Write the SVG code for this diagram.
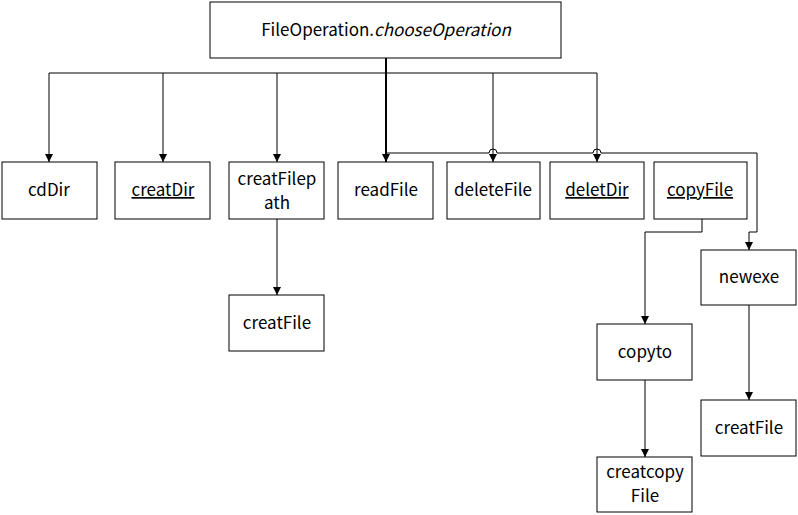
<svg xmlns="http://www.w3.org/2000/svg" width="798" height="515" viewBox="0 0 798 515">
<style>
rect{fill:#fff;stroke:#000;stroke-width:1}
text{font-family:"Noto Sans CJK KR","Noto Sans",sans-serif;font-size:17px;text-anchor:middle;fill:#000}
.c{fill:none;stroke:#000;stroke-width:1}
</style>
<defs>
<marker id="b" markerWidth="8" markerHeight="9" refX="8" refY="4" orient="auto" markerUnits="userSpaceOnUse" viewBox="0 0 8 8"><path d="M0,0L8,4L0,8z" fill="#000"/></marker></defs>
<g id="connectors">
<path class="c" style="stroke-width:2" d="M386,58V153"/>
<path class="c" d="M49,73H597"/>
<path class="c" d="M49,73V162" marker-end="url(#b)"/>
<path class="c" d="M163,73V162" marker-end="url(#b)"/>
<path class="c" d="M277,73V162" marker-end="url(#b)"/>
<path class="c" d="M493,73V162" marker-end="url(#b)"/>
<path class="c" d="M597,73V162" marker-end="url(#b)"/>
<path class="c" style="stroke-width:2" d="M386,153V162" marker-end="url(#b)"/>
<path class="c" d="M386,153H489A4,4 0 0 1 497,153H593A4,4 0 0 1 601,153H757V232H749V250" marker-end="url(#b)"/>
<path class="c" d="M277,219V295" marker-end="url(#b)"/>
<path class="c" d="M702,219V232H645V324" marker-end="url(#b)"/>
<path class="c" d="M645,380V457" marker-end="url(#b)"/>
<path class="c" d="M749,305V400" marker-end="url(#b)"/>
</g>
<g id="top"><rect x="210" y="2" width="351" height="56"/><text x="386" y="36">FileOperation.<tspan font-style="italic">chooseOperation</tspan></text></g>
<g id="cdDir"><rect x="2" y="162" width="95" height="57"/><text x="49" y="196">cdDir</text></g>
<g id="creatDir"><rect x="115" y="162" width="95" height="57"/><text x="163" y="196" text-decoration="underline">creatDir</text></g>
<g id="creatFilepath"><rect x="229" y="162" width="95" height="57"/><text x="277" y="185">creatFilep</text><text x="277" y="209">ath</text></g>
<g id="readFile"><rect x="338" y="162" width="95" height="57"/><text x="386" y="196">readFile</text></g>
<g id="deleteFile"><rect x="447" y="162" width="93" height="57"/><text x="493" y="196">deleteFile</text></g>
<g id="deletDir"><rect x="550" y="162" width="94" height="57"/><text x="597" y="196" text-decoration="underline">deletDir</text></g>
<g id="copyFile"><rect x="654" y="162" width="93" height="57"/><text x="700" y="196" text-decoration="underline">copyFile</text></g>
<g id="newexe"><rect x="701" y="250" width="95" height="55"/><text x="749" y="283">newexe</text></g>
<g id="creatFile1"><rect x="229" y="295" width="95" height="56"/><text x="277" y="329">creatFile</text></g>
<g id="copyto"><rect x="597" y="324" width="95" height="56"/><text x="645" y="358">copyto</text></g>
<g id="creatFile2"><rect x="701" y="400" width="95" height="56"/><text x="749" y="434">creatFile</text></g>
<g id="creatcopyFile"><rect x="597" y="457" width="95" height="55"/><text x="645" y="478">creatcopy</text><text x="645" y="502">File</text></g>
</svg>
